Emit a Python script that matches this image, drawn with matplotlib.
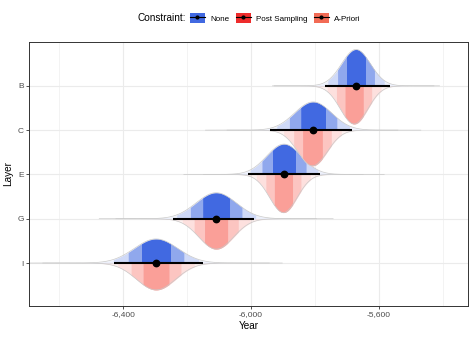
import numpy as np
import matplotlib.pyplot as plt
from matplotlib.patches import Patch
from matplotlib.lines import Line2D
from matplotlib.legend_handler import HandlerTuple

plt.rcParams['font.family'] = ['Liberation Sans', 'DejaVu Sans']

# data
layers = ["B", "C", "E", "G", "I"]
none_mean = [-5672, -5806, -5897, -6109, -6297]
none_sd = [45, 58, 54, 63, 68]
apriori_mean = [-5678, -5808, -5899, -6109, -6297]
apriori_sd = [43, 46, 43, 54, 61]
interval_lo = [-5769, -5941, -6009, -6244, -6428]
interval_hi = [-5566, -5684, -5784, -5991, -6150]
levels = [0.95, 0.80, 0.50]
z_of_level = {0.95: 1.96, 0.80: 1.2816, 0.50: 0.6745}

legend_names = ["None", "Post Sampling", "A-Priori"]
legend_cols = ["#4169E1", "#EE2C2C", "#F26B55"]

blue = "#4169E1"
red = "#F8766D"
blue_alpha = {"tail": 0.09, 0.95: 0.25, 0.80: 0.58, 0.50: 1.0}
red_alpha = {"tail": 0.10, 0.95: 0.22, 0.80: 0.42, 0.50: 0.70}

scale = 0.86
sd_min = min(min(none_sd), min(apriori_sd))
tail_k = 5.8


def half_slab(ax, y0, mu, sd, col, alphas, sign):
    h = scale * sd_min / sd

    def dens(x):
        return h * np.exp(-0.5 * ((x - mu) / sd) ** 2)

    x = np.linspace(mu - tail_k * sd, mu + tail_k * sd, 400)
    ax.fill_between(x, y0, y0 + sign * dens(x), color=col, alpha=alphas["tail"],
                    lw=0, zorder=2)
    for lev in levels:
        w = z_of_level[lev] * sd
        xb = np.linspace(mu - w, mu + w, 200)
        # paint white first so bands are opaque over gridlines
        ax.fill_between(xb, y0, y0 + sign * dens(xb), color="white", lw=0, zorder=2)
        ax.fill_between(xb, y0, y0 + sign * dens(xb), color=col, alpha=alphas[lev],
                        lw=0, zorder=2)
    ax.plot(x, y0 + sign * dens(x), color="#c9c9c9", lw=0.5, zorder=2)


fig = plt.figure(figsize=(4.74, 3.38), dpi=100)
ax = fig.add_axes([29 / 474, 1 - 306 / 338, (468 - 29) / 474, (306 - 42) / 338])

ypos = np.arange(len(layers), 0, -1)

for i in range(len(layers) - 1, -1, -1):
    y0 = ypos[i]
    half_slab(ax, y0, none_mean[i], none_sd[i], blue, blue_alpha, 1)
    half_slab(ax, y0, apriori_mean[i], apriori_sd[i], red, red_alpha, -1)

for i in range(len(layers)):
    ax.plot([interval_lo[i], interval_hi[i]], [ypos[i], ypos[i]], color="black",
            lw=1.5, solid_capstyle="butt", zorder=5)
    ax.plot(none_mean[i], ypos[i], "o", color="black", ms=4.6, zorder=6)

ax.set_xlim(-6694, -5322)
ax.set_ylim(0.03, 5.99)
ax.set_xticks([-6400, -6000, -5600])
ax.set_xticklabels(["-6,400", "-6,000", "-5,600"])
ax.set_xticks([-6600, -6200, -5800, -5400], minor=True)
ax.set_yticks(ypos)
ax.set_yticklabels(layers)

ax.grid(True, which="major", color="#ebebeb", lw=0.8, zorder=0)
ax.grid(True, which="minor", axis="x", color="#ebebeb", lw=0.4, zorder=0)
ax.set_axisbelow(True)

ax.tick_params(which="major", length=2.2, width=0.6, color="#333333",
               labelsize=6, labelcolor="#4d4d4d", pad=1.5)
ax.tick_params(which="minor", length=0)
for s in ax.spines.values():
    s.set_color("#333333")
    s.set_linewidth(0.7)

ax.set_xlabel("Year", fontsize=7.2, labelpad=2)
ax.set_ylabel("Layer", fontsize=7.2, labelpad=3)

handles = [(Patch(facecolor=c, edgecolor="none"),
            Line2D([], [], color="black", lw=0.8, marker="o", ms=2))
           for c in legend_cols]
fig.legend(handles, legend_names, handler_map={tuple: HandlerTuple(ndivide=1, pad=0)},
           loc="center left", bbox_to_anchor=(190 / 474, 1 - 18 / 338), ncol=3,
           frameon=False, fontsize=5.8, handlelength=1.85, handleheight=1.7,
           handletextpad=0.7, columnspacing=0.75, borderpad=0, borderaxespad=0)
fig.text(186 / 474, 1 - 18 / 338, "Constraint:", fontsize=7.2, ha="right", va="center")

fig.savefig("out.png", dpi=100)
